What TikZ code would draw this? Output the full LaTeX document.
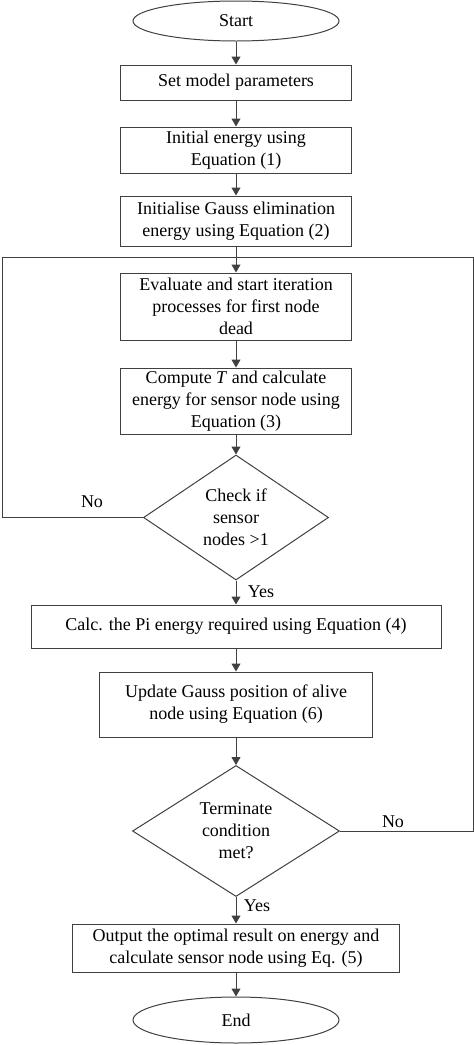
\documentclass[tikz,border=0pt]{standalone}
\usepackage{fontspec}
\setmainfont{Liberation Serif}
\usetikzlibrary{shapes.geometric,arrows.meta}
\begin{document}
\begin{tikzpicture}[x=1pt,y=-1pt,line width=1pt,color=black!75,
    arr/.style={-{Triangle[length=8pt,width=9pt]}},
    every node/.style={text=black,font=\fontsize{18}{22}\selectfont}]
    \tikzstyle{terminal}=[ellipse,draw,minimum width=206pt,inner sep=0pt]
    \tikzstyle{process}=[rectangle,draw,align=center,inner sep=0pt]
    \tikzstyle{decision}=[diamond,draw,align=center,inner sep=0pt,aspect=1.5]

    \useasboundingbox (0,0) rectangle (474,1045);

    \node[terminal,minimum height=40pt] (start) at (236,21) {Start};
    \node[process,minimum width=231pt,minimum height=35pt] (params) at (236,82.5) {Set model parameters};
    \node[process,minimum width=231pt,minimum height=46pt] (init) at (236,150) {Initial energy using\\Equation (1)};
    \node[process,minimum width=231pt,minimum height=50pt] (gauss) at (236,221) {Initialise Gauss elimination\\energy using Equation (2)};
    \node[process,minimum width=231pt,minimum height=67pt] (eval) at (236,306.5) {Evaluate and start iteration\\processes for first node\\dead};
    \node[process,minimum width=231pt,minimum height=66pt] (comp) at (236,401) {Compute \textit{T} and calculate\\energy for sensor node using\\Equation (3)};
    \node[decision,minimum width=185pt,minimum height=125pt] (check) at (236,517.5) {Check if\\sensor\\nodes >1};
    \node[process,minimum width=410pt,minimum height=43pt] (calc) at (236,626.5) {Calc. the Pi energy required using Equation (4)};
    \node[process,minimum width=273pt,minimum height=65pt] (update) at (236,704.5) {Update Gauss position of alive\\node using Equation (6)};
    \node[decision,minimum width=207pt,minimum height=131pt] (termc) at (236,831) {Terminate\\condition\\met?};
    \node[process,minimum width=327pt,minimum height=48pt] (output) at (236,948) {Output the optimal result on energy and\\calculate sensor node using Eq. (5)};
    \node[terminal,minimum height=46pt] (end) at (236,1020) {End};

    \node (no1) at (92,502) {No};
    \node (yes1) at (261,592) {Yes};
    \node (no2) at (393,822) {No};
    \node (yes2) at (257,906) {Yes};

    \draw[arr] (start) -- (params);
    \draw[arr] (params) -- (init);
    \draw[arr] (init) -- (gauss);
    \draw[arr] (gauss) -- (eval);
    \draw[arr] (eval) -- (comp);
    \draw[arr] (comp) -- (check);
    \draw[arr] (check) -- (calc);
    \draw[arr] (calc) -- (update);
    \draw[arr] (update) -- (termc);
    \draw[arr] (termc) -- (output);
    \draw[arr] (output) -- (end);

    % loop back
    \coordinate (loopL) at (2,257);
    \coordinate (loopR) at (473,257);
    \draw (check.west) -| (loopL) -- (loopR) |- (termc.east);

  \end{tikzpicture}
\end{document}
